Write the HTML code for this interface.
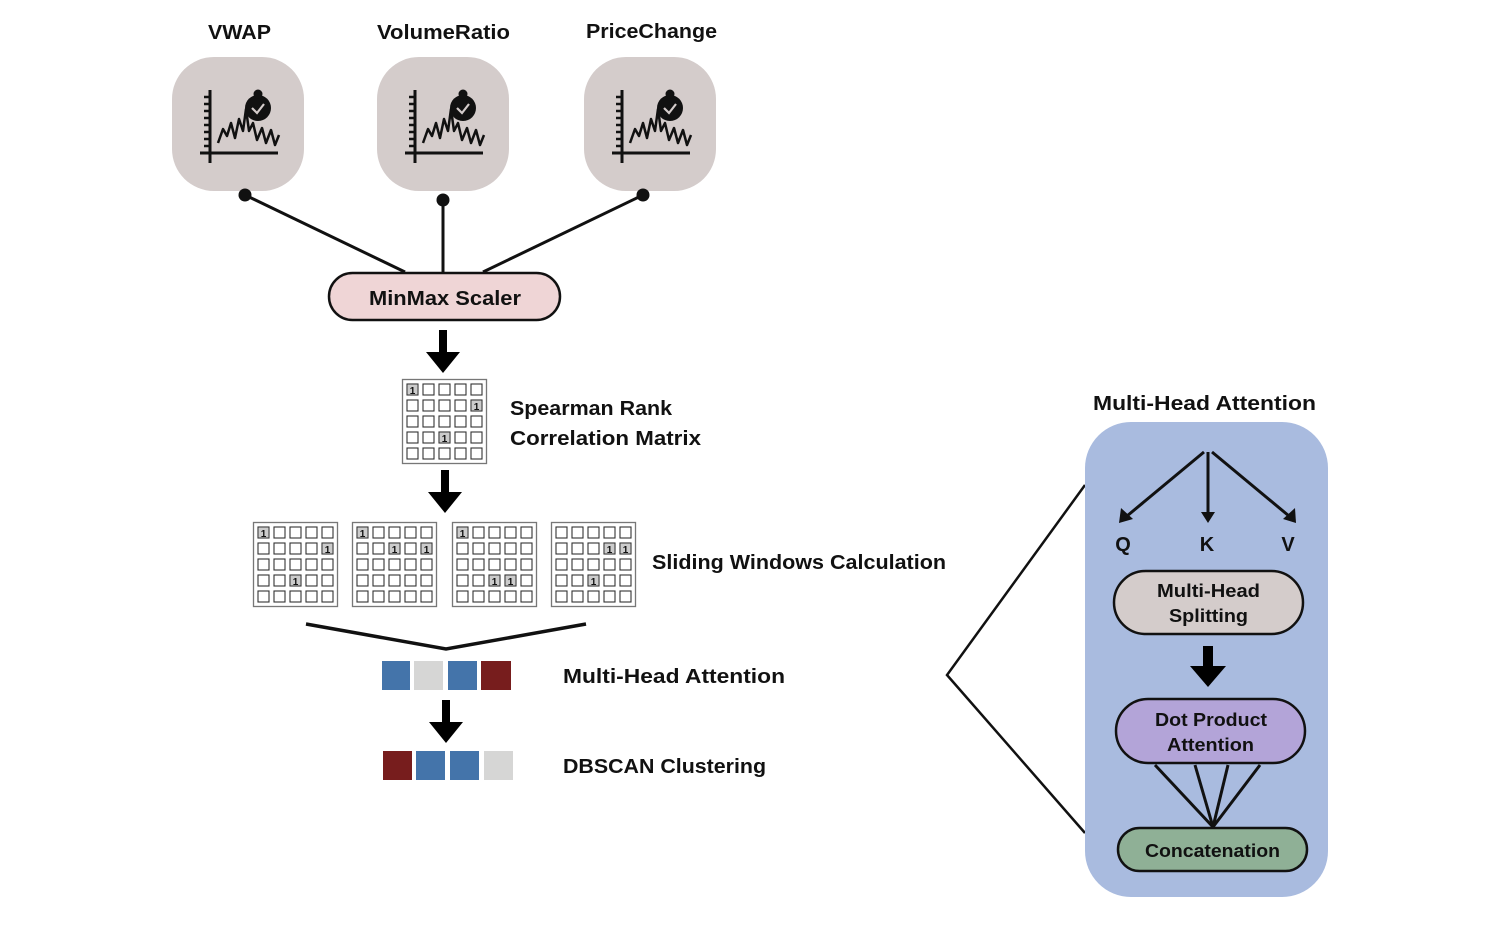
<!DOCTYPE html>
<html><head><meta charset="utf-8"><style>
html,body{margin:0;padding:0;background:#fff}
svg{display:block}
text{font-family:"Liberation Sans",sans-serif;font-weight:bold;fill:#111}
</style></head><body>
<svg width="1500" height="932" viewBox="0 0 1500 932" xmlns="http://www.w3.org/2000/svg">
<defs>
<g id="icon">
  <rect x="0" y="0" width="132" height="134" rx="42" fill="#d4cccb"/>
  <line x1="38" y1="33" x2="38" y2="106" stroke="#111" stroke-width="3"/>
  <line x1="28" y1="96" x2="106" y2="96" stroke="#111" stroke-width="3"/>
  <g stroke="#111" stroke-width="2.5">
    <line x1="32" y1="40" x2="38" y2="40"/><line x1="32" y1="47" x2="38" y2="47"/>
    <line x1="32" y1="54" x2="38" y2="54"/><line x1="32" y1="61" x2="38" y2="61"/>
    <line x1="32" y1="68" x2="38" y2="68"/><line x1="32" y1="75" x2="38" y2="75"/>
    <line x1="32" y1="82" x2="38" y2="82"/><line x1="32" y1="89" x2="38" y2="89"/>
  </g>
  <polyline fill="none" stroke="#111" stroke-width="2.5" stroke-linejoin="round" points="46,86 51,72 55,79 59,66 63,81 67,62 71,74 74,52 77,74 81,66 85,83 90,71 94,86 99,73 103,88 107,78"/>
  <circle cx="86" cy="51" r="13" fill="#111"/>
  <circle cx="86" cy="37" r="4.5" fill="#111"/>
  <polyline points="80,51 85,56 92,47" fill="none" stroke="#d4cccb" stroke-width="2.2"/>
</g>
<g id="mat">
  <rect x="0.5" y="0.5" width="84" height="84" fill="#fff" stroke="#777" stroke-width="1.3"/>
  <g fill="none" stroke="#333" stroke-width="1.1">
    <rect x="5" y="5" width="11" height="11"/><rect x="21" y="5" width="11" height="11"/><rect x="37" y="5" width="11" height="11"/><rect x="53" y="5" width="11" height="11"/><rect x="69" y="5" width="11" height="11"/>
    <rect x="5" y="21" width="11" height="11"/><rect x="21" y="21" width="11" height="11"/><rect x="37" y="21" width="11" height="11"/><rect x="53" y="21" width="11" height="11"/><rect x="69" y="21" width="11" height="11"/>
    <rect x="5" y="37" width="11" height="11"/><rect x="21" y="37" width="11" height="11"/><rect x="37" y="37" width="11" height="11"/><rect x="53" y="37" width="11" height="11"/><rect x="69" y="37" width="11" height="11"/>
    <rect x="5" y="53" width="11" height="11"/><rect x="21" y="53" width="11" height="11"/><rect x="37" y="53" width="11" height="11"/><rect x="53" y="53" width="11" height="11"/><rect x="69" y="53" width="11" height="11"/>
    <rect x="5" y="69" width="11" height="11"/><rect x="21" y="69" width="11" height="11"/><rect x="37" y="69" width="11" height="11"/><rect x="53" y="69" width="11" height="11"/><rect x="69" y="69" width="11" height="11"/>
  </g>
</g>
</defs>

<!-- top icons -->
<text x="208" y="39" font-size="20" textLength="63" lengthAdjust="spacingAndGlyphs">VWAP</text>
<text x="377" y="39" font-size="20" textLength="133" lengthAdjust="spacingAndGlyphs">VolumeRatio</text>
<text x="586" y="38" font-size="20" textLength="131" lengthAdjust="spacingAndGlyphs">PriceChange</text>
<use href="#icon" x="172" y="57"/>
<use href="#icon" x="377" y="57"/>
<use href="#icon" x="584" y="57"/>
<g stroke="#111" stroke-width="3">
  <line x1="245" y1="195" x2="405" y2="272"/>
  <line x1="443" y1="200" x2="443" y2="272"/>
  <line x1="643" y1="195" x2="483" y2="272"/>
</g>
<circle cx="245" cy="195" r="6.5" fill="#111"/>
<circle cx="443" cy="200" r="6.5" fill="#111"/>
<circle cx="643" cy="195" r="6.5" fill="#111"/>

<rect x="329" y="273" width="231" height="47" rx="23.5" fill="#efd5d6" stroke="#111" stroke-width="2.5"/>
<text x="369" y="305" font-size="20" textLength="152" lengthAdjust="spacingAndGlyphs">MinMax Scaler</text>

<!-- arrows -->
<g fill="#000">
  <polygon points="439,330 447,330 447,352 460,352 443,373 426,352 439,352"/>
  <polygon points="441,470 449,470 449,492 462,492 445,513 428,492 441,492"/>
  <polygon points="442,700 450,700 450,722 463,722 446,743 429,722 442,722"/>
</g>

<!-- matrices -->
<g font-size="10" text-anchor="middle">
<use href="#mat" x="402" y="379"/>
<rect x="407" y="384" width="11" height="11" fill="#ccc" stroke="#333"/><text x="412.5" y="394" font-size="10">1</text>
<rect x="471" y="400" width="11" height="11" fill="#ccc" stroke="#333"/><text x="476.5" y="410" font-size="10">1</text>
<rect x="439" y="432" width="11" height="11" fill="#ccc" stroke="#333"/><text x="444.5" y="442" font-size="10">1</text>

<use href="#mat" x="253" y="522"/>
<rect x="258" y="527" width="11" height="11" fill="#ccc" stroke="#333"/><text x="263.5" y="537" font-size="10">1</text>
<rect x="322" y="543" width="11" height="11" fill="#ccc" stroke="#333"/><text x="327.5" y="553" font-size="10">1</text>
<rect x="290" y="575" width="11" height="11" fill="#ccc" stroke="#333"/><text x="295.5" y="585" font-size="10">1</text>

<use href="#mat" x="352" y="522"/>
<rect x="357" y="527" width="11" height="11" fill="#ccc" stroke="#333"/><text x="362.5" y="537" font-size="10">1</text>
<rect x="389" y="543" width="11" height="11" fill="#ccc" stroke="#333"/><text x="394.5" y="553" font-size="10">1</text>
<rect x="421" y="543" width="11" height="11" fill="#ccc" stroke="#333"/><text x="426.5" y="553" font-size="10">1</text>

<use href="#mat" x="452" y="522"/>
<rect x="457" y="527" width="11" height="11" fill="#ccc" stroke="#333"/><text x="462.5" y="537" font-size="10">1</text>
<rect x="489" y="575" width="11" height="11" fill="#ccc" stroke="#333"/><text x="494.5" y="585" font-size="10">1</text>
<rect x="505" y="575" width="11" height="11" fill="#ccc" stroke="#333"/><text x="510.5" y="585" font-size="10">1</text>

<use href="#mat" x="551" y="522"/>
<rect x="604" y="543" width="11" height="11" fill="#ccc" stroke="#333"/><text x="609.5" y="553" font-size="10">1</text>
<rect x="620" y="543" width="11" height="11" fill="#ccc" stroke="#333"/><text x="625.5" y="553" font-size="10">1</text>
<rect x="588" y="575" width="11" height="11" fill="#ccc" stroke="#333"/><text x="593.5" y="585" font-size="10">1</text>
</g>

<text x="510" y="415" font-size="20" textLength="162" lengthAdjust="spacingAndGlyphs">Spearman Rank</text>
<text x="510" y="445" font-size="20" textLength="191" lengthAdjust="spacingAndGlyphs">Correlation Matrix</text>
<text x="652" y="569" font-size="20" textLength="294" lengthAdjust="spacingAndGlyphs">Sliding Windows Calculation</text>

<polyline points="306,624 446,649 586,624" fill="none" stroke="#111" stroke-width="3.5"/>

<rect x="382" y="661" width="28" height="29" fill="#4474aa"/>
<rect x="414" y="661" width="29" height="29" fill="#d6d6d5"/>
<rect x="448" y="661" width="29" height="29" fill="#4474aa"/>
<rect x="481" y="661" width="30" height="29" fill="#771d1d"/>
<text x="563" y="683" font-size="20" textLength="222" lengthAdjust="spacingAndGlyphs">Multi-Head Attention</text>

<rect x="383" y="751" width="29" height="29" fill="#771d1d"/>
<rect x="416" y="751" width="29" height="29" fill="#4474aa"/>
<rect x="450" y="751" width="29" height="29" fill="#4474aa"/>
<rect x="484" y="751" width="29" height="29" fill="#d6d6d5"/>
<text x="563" y="773" font-size="20" textLength="203" lengthAdjust="spacingAndGlyphs">DBSCAN Clustering</text>

<!-- right panel -->
<polyline points="1085,485 947,675 1085,833" fill="none" stroke="#111" stroke-width="2.5"/>
<text x="1093" y="410" font-size="20" textLength="223" lengthAdjust="spacingAndGlyphs">Multi-Head Attention</text>
<rect x="1085" y="422" width="243" height="475" rx="46" fill="#a9bbdf"/>
<g stroke="#111" stroke-width="3">
  <line x1="1204" y1="452" x2="1127" y2="516"/>
  <line x1="1208" y1="452" x2="1208" y2="514"/>
  <line x1="1212" y1="452" x2="1289" y2="516"/>
</g>
<g fill="#111">
  <polygon points="1119,523 1121,508 1133,519"/>
  <polygon points="1208,523 1201,512 1215,512"/>
  <polygon points="1296,523 1283,519 1295,508"/>
</g>
<text x="1123" y="551" font-size="20" text-anchor="middle">Q</text>
<text x="1207" y="551" font-size="20" text-anchor="middle">K</text>
<text x="1288" y="551" font-size="20" text-anchor="middle">V</text>

<rect x="1114" y="571" width="189" height="63" rx="31.5" fill="#d4cccb" stroke="#111" stroke-width="2.5"/>
<text x="1157" y="597" font-size="18" textLength="103" lengthAdjust="spacingAndGlyphs">Multi-Head</text>
<text x="1169" y="622" font-size="18" textLength="79" lengthAdjust="spacingAndGlyphs">Splitting</text>

<polygon fill="#000" points="1203,646 1213,646 1213,666 1226,666 1208,687 1190,666 1203,666"/>

<rect x="1116" y="699" width="189" height="64" rx="32" fill="#b3a4d8" stroke="#111" stroke-width="2.5"/>
<text x="1155" y="726" font-size="18" textLength="112" lengthAdjust="spacingAndGlyphs">Dot Product</text>
<text x="1167" y="751" font-size="18" textLength="87" lengthAdjust="spacingAndGlyphs">Attention</text>

<g stroke="#111" stroke-width="3">
  <line x1="1155" y1="765" x2="1213" y2="827"/>
  <line x1="1195" y1="765" x2="1213" y2="827"/>
  <line x1="1228" y1="765" x2="1213" y2="827"/>
  <line x1="1260" y1="765" x2="1213" y2="827"/>
</g>
<rect x="1118" y="828" width="189" height="43" rx="21.5" fill="#8fb096" stroke="#111" stroke-width="2.5"/>
<text x="1145" y="857" font-size="18" textLength="135" lengthAdjust="spacingAndGlyphs">Concatenation</text>
</svg>
</body></html>
